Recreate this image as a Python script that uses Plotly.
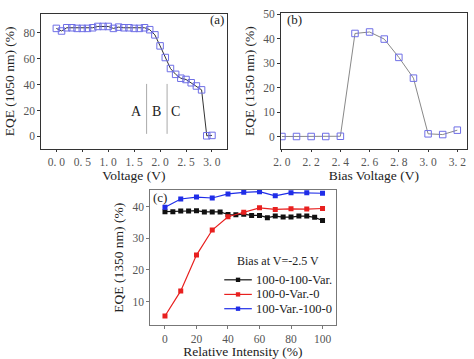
import plotly.graph_objects as go

# ---------------- data ----------------
volt_a = [0.0, 0.1, 0.2, 0.3, 0.4, 0.5, 0.6, 0.7, 0.8, 0.9, 1.0, 1.1, 1.2, 1.3, 1.4, 1.5,
          1.6, 1.7, 1.8, 1.9, 2.0, 2.1, 2.2, 2.3, 2.4, 2.5, 2.6, 2.7, 2.8, 2.9, 3.0]
eqe_a = [83.5, 81.5, 84.0, 84.0, 83.5, 83.5, 83.5, 84.0, 85.0, 85.0, 85.0, 83.5, 84.5, 84.0, 84.0, 83.5,
         83.5, 84.0, 82.5, 78.5, 70.0, 61.0, 52.5, 48.0, 45.0, 44.0, 41.5, 39.0, 36.0, 0.5, 0.8]

volt_b = [2.0, 2.1, 2.2, 2.3, 2.4, 2.5, 2.6, 2.7, 2.8, 2.9, 3.0, 3.1, 3.2]
eqe_b = [0.0, 0.0, 0.0, 0.0, 0.1, 42.2, 42.8, 39.9, 32.4, 23.9, 1.1, 0.8, 2.6]

rel_black = [0, 5, 10, 15, 20, 25, 30, 35, 40, 45, 50, 55, 60, 65, 70, 75, 80, 85, 90, 95, 100]
eqe_black = [38.4, 38.4, 38.6, 38.6, 38.7, 38.3, 38.3, 38.3, 37.5, 37.4, 37.6, 37.2, 37.2, 36.5,
             37.0, 36.7, 36.7, 37.0, 37.0, 36.6, 35.6]
rel_rb = [0, 10, 20, 30, 40, 50, 60, 70, 80, 90, 100]
eqe_red = [5.5, 13.4, 24.7, 32.6, 36.8, 38.2, 39.6, 39.1, 39.3, 39.2, 39.4]
eqe_blue = [39.8, 42.4, 43.0, 42.7, 44.0, 44.5, 44.7, 43.4, 44.4, 44.4, 44.2]

series_names = ["100-0-100-Var.", "100-0-Var.-0", "100-Var.-100-0"]
series_colors = ["#111111", "#e8201f", "#1f2de8"]

ticks_a_x = [0.0, 0.5, 1.0, 1.5, 2.0, 2.5, 3.0]
ticks_a_x_text = ["0. 0", "0. 5", "1. 0", "1. 5", "2. 0", "2. 5", "3. 0"]
ticks_a_y = [0, 20, 40, 60, 80]
ticks_b_x = [2.0, 2.2, 2.4, 2.6, 2.8, 3.0, 3.2]
ticks_b_x_text = ["2. 0", "2. 2", "2. 4", "2. 6", "2. 8", "3. 0", "3. 2"]
ticks_b_y = [0, 10, 20, 30, 40, 50]
ticks_c_x = [0, 20, 40, 60, 80, 100]
ticks_c_y = [10, 20, 30, 40]

region_bounds = [1.74, 2.135]
region_labels = ["A", "B", "C"]
region_label_x = [1.55, 1.93, 2.29]

# ---------------- layout helpers ----------------
W, H = 474, 359
FONT = "Liberation Serif, Times New Roman, serif"


def px(x):
    return x / W


def py(y):
    return 1 - y / H


fig = go.Figure()

mk_open = dict(symbol="square-open", size=6.5, color="#6f6fe6", line=dict(width=1, color="#6f6fe6"))

fig.add_trace(go.Scatter(x=volt_a, y=eqe_a, mode="lines+markers", xaxis="x", yaxis="y",
                         line=dict(color="#333333", width=1), marker=mk_open, showlegend=False))
fig.add_trace(go.Scatter(x=volt_b, y=eqe_b, mode="lines+markers", xaxis="x2", yaxis="y2",
                         line=dict(color="#888888", width=1), marker=mk_open, showlegend=False))

for xs, ys, name, col in [(rel_black, eqe_black, series_names[0], series_colors[0]),
                          (rel_rb, eqe_red, series_names[1], series_colors[1]),
                          (rel_rb, eqe_blue, series_names[2], series_colors[2])]:
    fig.add_trace(go.Scatter(x=xs, y=ys, mode="lines+markers", xaxis="x3", yaxis="y3", name=name,
                             line=dict(color=col, width=1.2),
                             marker=dict(symbol="square", size=5, color=col), showlegend=False))

tickfont = dict(family=FONT, size=11.5, color="#555555")
titlefont = dict(family=FONT, size=13.5, color="#222222")


def axis(domain, rng, tickvals, ticktext=None, title="", linecolor="#333333", standoff=4):
    d = dict(domain=domain, range=rng, tickvals=tickvals, showgrid=False, zeroline=False,
             showline=True, linecolor=linecolor, linewidth=1, mirror=True,
             ticks="outside", ticklen=2.5, tickcolor=linecolor, tickfont=tickfont,
             title=dict(text=title, font=titlefont, standoff=standoff))
    if ticktext is not None:
        d["ticktext"] = ticktext
    return d


fig.update_layout(
    width=W, height=H, margin=dict(l=0, r=0, t=0, b=0),
    paper_bgcolor="white", plot_bgcolor="white",
    font=dict(family=FONT),
    xaxis=axis([px(34.3), px(223.3)], [-0.30, 3.29], ticks_a_x, ticks_a_x_text, "Voltage (V)", standoff=0),
    yaxis=axis([py(145.7), py(9.3)], [-9.45, 94.5], ticks_a_y, None, "EQE (1050 nm) (%)", standoff=5),
    xaxis2=axis([px(277.7), px(467)], [1.991, 3.267], ticks_b_x, ticks_b_x_text, "Bias Voltage (V)", standoff=0),
    yaxis2=axis([py(146), py(8.3)], [-5.1, 50.5], ticks_b_y, None, "EQE (1350 nm) (%)", standoff=5),
    xaxis3=axis([px(145), px(334)], [-9.6, 108.6], ticks_c_x, None, "Relative Intensity (%)",
                linecolor="#777777", standoff=0),
    yaxis3=axis([py(325), py(187.7)], [2.5, 45.2], ticks_c_y, None, "EQE (1350 nm) (%)",
                linecolor="#777777", standoff=5),
)
fig.layout.xaxis2.anchor = "y2"
fig.layout.yaxis2.anchor = "x2"
fig.layout.xaxis3.anchor = "y3"
fig.layout.yaxis3.anchor = "x3"
fig.layout.xaxis.anchor = "y"
fig.layout.yaxis.anchor = "x"

# region dividers in panel (a)
for xb in region_bounds:
    fig.add_shape(type="line", xref="x", yref="y", x0=xb, x1=xb, y0=2, y1=40.6,
                  line=dict(color="#aaaaaa", width=1))
for lab, lx in zip(region_labels, region_label_x):
    fig.add_annotation(x=lx, y=19, xref="x", yref="y", text=lab, showarrow=False,
                       xanchor="center", yanchor="middle",
                       font=dict(family=FONT, size=14, color="#222222"))

# panel labels
lab_font = dict(family=FONT, size=13, color="#222222")
fig.add_annotation(x=px(222), y=py(15), xref="paper", yref="paper", text="(a)", showarrow=False,
                   xanchor="right", yanchor="middle", font=lab_font)
fig.add_annotation(x=px(282), y=py(15), xref="paper", yref="paper", text="(b)", showarrow=False,
                   xanchor="left", yanchor="middle", font=lab_font)
fig.add_annotation(x=px(146.5), y=py(195), xref="paper", yref="paper", text="(c)", showarrow=False,
                   xanchor="left", yanchor="middle", font=lab_font)

# legend of panel (c)
fig.add_annotation(x=px(231), y=py(260), xref="paper", yref="paper", text="Bias at V=-2.5 V",
                   showarrow=False, xanchor="left", yanchor="middle",
                   font=dict(family=FONT, size=12, color="#222222"))
rows = [278.7, 293.5, 308.0]
for name, col, yr in zip(series_names, series_colors, rows):
    fig.add_shape(type="line", xref="paper", yref="paper", x0=px(220.5), x1=px(248.5),
                  y0=py(yr), y1=py(yr), line=dict(color=col, width=1.2))
    fig.add_shape(type="rect", xref="paper", yref="paper", x0=px(232.3), x1=px(236.7),
                  y0=py(yr + 2.2), y1=py(yr - 2.2), line=dict(width=0), fillcolor=col)
    fig.add_annotation(x=px(250.5), y=py(yr), xref="paper", yref="paper", text=name,
                       showarrow=False, xanchor="left", yanchor="middle",
                       font=dict(family=FONT, size=12.5, color="#222222"))

fig.write_html("out.html", config={"displayModeBar": False},
               post_script="document.body.style.margin='0';document.body.style.overflow='hidden';")
